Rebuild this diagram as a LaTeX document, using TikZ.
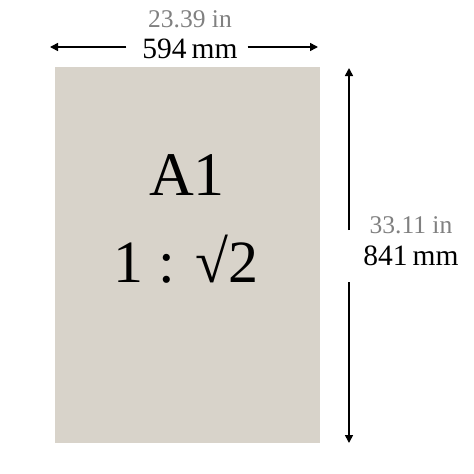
\documentclass[tikz,border=0pt]{standalone}
\usepackage{fontspec}
\setmainfont{Liberation Serif}
\usetikzlibrary{arrows.meta}

\definecolor{paper}{RGB}{216,211,202}
\definecolor{inchgray}{RGB}{128,128,128}

\tikzset{
  dimarrow/.style={line width=1.6pt, -{Triangle[length=8pt,width=8pt]}},
  inchlabel/.style={anchor=base, inner sep=0pt, text=inchgray, font=\fontsize{25.5}{30}\selectfont},
  mmlabel/.style={anchor=base, inner sep=0pt, font=\fontsize{29.5}{34}\selectfont},
  biglabel/.style={anchor=base, inner sep=0pt, font=\fontsize{62}{70}\selectfont}
}

\begin{document}
\begin{tikzpicture}[x=1pt,y=-1pt]
        \useasboundingbox (0,0) rectangle (474,474);

        % Paper sheet
        \fill[paper] (55,67) rectangle (320,443);
        \node[biglabel] (size) at (187,195) {A1};
        \node[biglabel, font=\fontsize{60}{70}\selectfont] (ratio) at (186,282) {1 : √2};

        % Width labels
        \node[inchlabel] (win) at (190,27) {23.39 in};
        \node[mmlabel] (wmm) at (190,58) {594\,mm};

        % Height labels
        \node[inchlabel] (hin) at (411,233) {33.11 in};
        \node[mmlabel] (hmm) at (411,265) {841\,mm};

        % Arrow ends
        \coordinate (wleft) at (50,47);
        \coordinate (wright) at (318,47);
        \coordinate (htop) at (349,68);
        \coordinate (hbot) at (349,443);
        \coordinate (hgapa) at (349,230);
        \coordinate (hgapb) at (349,282);

        % Dimension arrows
        \draw[dimarrow] ([xshift=-16pt]wmm.west |- wleft) -- (wleft);
        \draw[dimarrow] ([xshift=10pt]wmm.east |- wright) -- (wright);
        \draw[dimarrow] (hgapa) -- (htop);
        \draw[dimarrow] (hgapb) -- (hbot);
      \end{tikzpicture}
\end{document}
